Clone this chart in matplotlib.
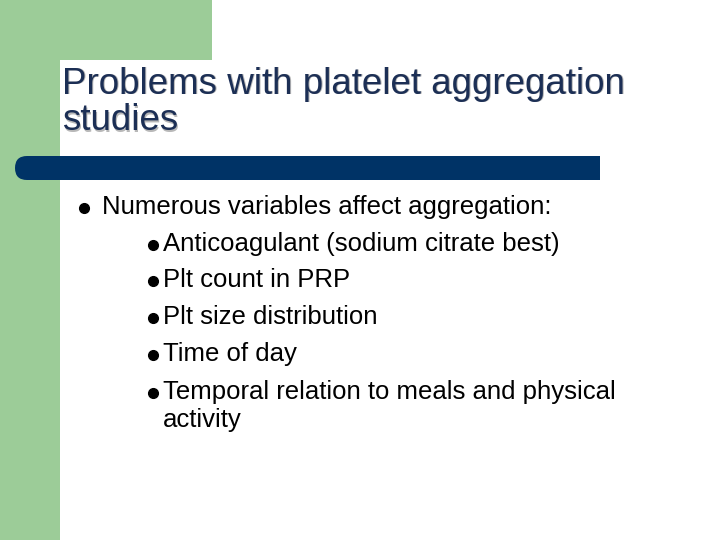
import matplotlib
matplotlib.use("Agg")
import matplotlib.pyplot as plt
from matplotlib.patches import Rectangle, FancyBboxPatch

title_lines = ["Problems with platelet aggregation", "studies"]
main_bullet = "Numerous variables affect aggregation:"
sub_bullets = ["Anticoagulant (sodium citrate best)", "Plt count in PRP",
               "Plt size distribution", "Time of day",
               "Temporal relation to meals and physical\nactivity"]
sub_y = [245, 281, 318, 355, 393]

GREEN = "#9ccc98"; NAVY = "#003366"; TITLE = "#1c2f55"

fig = plt.figure(figsize=(7.2, 5.4), dpi=100)
ax = fig.add_axes([0, 0, 1, 1]); ax.axis("off")
ax.set_xlim(0, 720); ax.set_ylim(540, 0)
ax.add_patch(Rectangle((0, 0), 60, 540, color=GREEN, lw=0))
ax.add_patch(Rectangle((0, 0), 212, 60, color=GREEN, lw=0))
ax.add_patch(FancyBboxPatch((60, 60), 40, 40, boxstyle="round,pad=0,rounding_size=12",
                            fc="white", ec="none", zorder=0.7))
ax.add_patch(Rectangle((72, 60), 140, 30, color="white", lw=0, zorder=0.7))
ax.add_patch(Rectangle((60, 72), 30, 90, color="white", lw=0, zorder=0.7))
ax.add_patch(FancyBboxPatch((15, 156), 585, 24, boxstyle="round,pad=0,rounding_size=12",
                            fc=NAVY, ec="none", zorder=2))
ax.add_patch(Rectangle((40, 156), 560, 24, color=NAVY, lw=0, zorder=2))

for i, t in enumerate(title_lines):
    y = 84 + i * 37
    ax.text(63, y + 1, t, fontsize=26.5, color="#b8b8b8", va="center", family="Liberation Sans", zorder=3)
    ax.text(62, y, t, fontsize=26.5, color=TITLE, va="center", family="Liberation Sans", zorder=4)

ax.plot(84, 208, "o", ms=7, color="black", zorder=4)
ax.text(102, 207, main_bullet, fontsize=18.5, va="center", family="Liberation Sans", zorder=4)
for t, y in zip(sub_bullets, sub_y):
    ax.plot(153, y, "o", ms=7, color="black", zorder=4)
    ax.text(163, y - 13, t, fontsize=18.5, va="top", family="Liberation Sans",
            linespacing=1.2, zorder=4)

fig.savefig("out.png", dpi=100)
